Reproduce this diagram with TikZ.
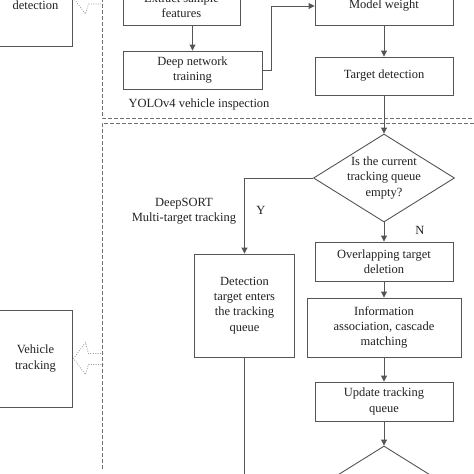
\documentclass[tikz,border=0pt]{standalone}
\usepackage{fontspec}
\setmainfont{Liberation Serif}
\usetikzlibrary{arrows.meta,shapes.geometric}
\definecolor{lnc}{HTML}{555555}
\definecolor{txc}{HTML}{222222}
\definecolor{dlc}{HTML}{707070}
\definecolor{dotc}{HTML}{9A9A9A}
\begin{document}
\begin{tikzpicture}[x=1pt,y=-1pt,
  box/.style={draw=lnc,line width=0.9pt,rectangle,inner sep=0pt,align=center,text=txc,font=\fontsize{12.5}{15.3}\selectfont},
  dec/.style={draw=lnc,line width=0.9pt,diamond,inner sep=0pt,aspect=1.6,minimum width=141pt,minimum height=88pt},
  lbl/.style={text=txc,inner sep=0pt,align=center,font=\fontsize{12.5}{15.3}\selectfont},
  arr/.style={draw=lnc,line width=0.9pt,-{Triangle[length=6pt,width=6pt]}},
  plain/.style={draw=lnc,line width=0.9pt},
  panel/.style={draw=dlc,line width=0.7pt,dash pattern=on 4pt off 2pt},
  hollow/.style={draw=dotc,line width=0.7pt,dash pattern=on 1pt off 1.4pt}]
\useasboundingbox (0,0) rectangle (474,474);
\clip (0,0) rectangle (474,474);

% panels
\coordinate (p1a) at (102,-20);
\coordinate (p1b) at (102,118);
\coordinate (p1c) at (480,118);
\coordinate (p2a) at (480,123);
\coordinate (p2b) at (102,123);
\coordinate (p2c) at (102,470);
\draw[panel] (p1a) -- (p1b) -- (p1c);
\draw[panel] (p2a) -- (p2b) -- (p2c);

% left boxes
\node[box,minimum width=73pt,minimum height=97pt] (vd) at (35.5,-2) {Vehicle\\detection};
\node[box,minimum width=73pt,minimum height=97pt] (vt) at (35.5,358.5) {Vehicle\\tracking};

% YOLO part
\node[box,minimum width=117pt,minimum height=38pt] (ex) at (181.5,6) {Extract sample\\features};
\node[box,minimum width=139pt,minimum height=38pt] (dn) at (192.5,70) {Deep network\\training};
\node[box,minimum width=138pt,minimum height=38pt] (mw) at (384,6) {Model weight};
\node[box,minimum width=138pt,minimum height=38pt] (td) at (384,76) {Target detection};
\node[lbl] (yl) at (199,104) {YOLOv4 vehicle inspection};

% DeepSORT part
\node[dec] (q1) at (384,178) {};
\node[lbl] (q1t) at (384,178) {Is the current\\tracking queue\\empty?};
\node[lbl] (ds) at (184,211) {DeepSORT\\Multi-target tracking};
\node[box,minimum width=100pt,minimum height=103pt] (en) at (244.5,305.5) {Detection\\target enters\\the tracking\\queue};
\node[box,minimum width=138pt,minimum height=39pt] (ov) at (384,261.5) {Overlapping target\\deletion};
\node[box,minimum width=154pt,minimum height=59pt] (ia) at (384,327.5) {Information\\association, cascade\\matching};
\node[box,minimum width=138pt,minimum height=39pt] (up) at (384,401.5) {Update tracking\\queue};
\node[dec] (q2) at (384,490) {};
\node[lbl] (yy) at (261,210) {Y};
\node[lbl] (nn) at (420,230) {N};
\coordinate (enEnd) at (244.5,480);

% connectors
\draw[arr] (ex.south -| dn.north) -- (dn.north);
\draw[arr] (dn.east) -- ++(9,0) |- (mw.west);
\draw[arr] (mw.south) -- (td.north);
\draw[arr] (td.south) -- (q1.north);
\draw[arr] (q1.west) -| (en.north);
\draw[arr] (q1.south) -- (ov.north);
\draw[arr] (ov.south) -- (ia.north);
\draw[arr] (ia.south) -- (up.north);
\draw[arr] (up.south) -- (q2.north);
\draw[plain] (en.south) -- (enEnd);

% hollow dotted arrows
\begin{scope}[shift={(vd.east)}]
  \draw[hollow] (31,-5) -- (16,-5) -- (13,-16) -- (1,0) -- (13,16) -- (16,6) -- (31,6);
\end{scope}
\begin{scope}[shift={(vt.east)}]
  \draw[hollow] (31,-5) -- (16,-5) -- (13,-16) -- (1,0) -- (13,16) -- (16,6) -- (31,6);
\end{scope}
\end{tikzpicture}
\end{document}
